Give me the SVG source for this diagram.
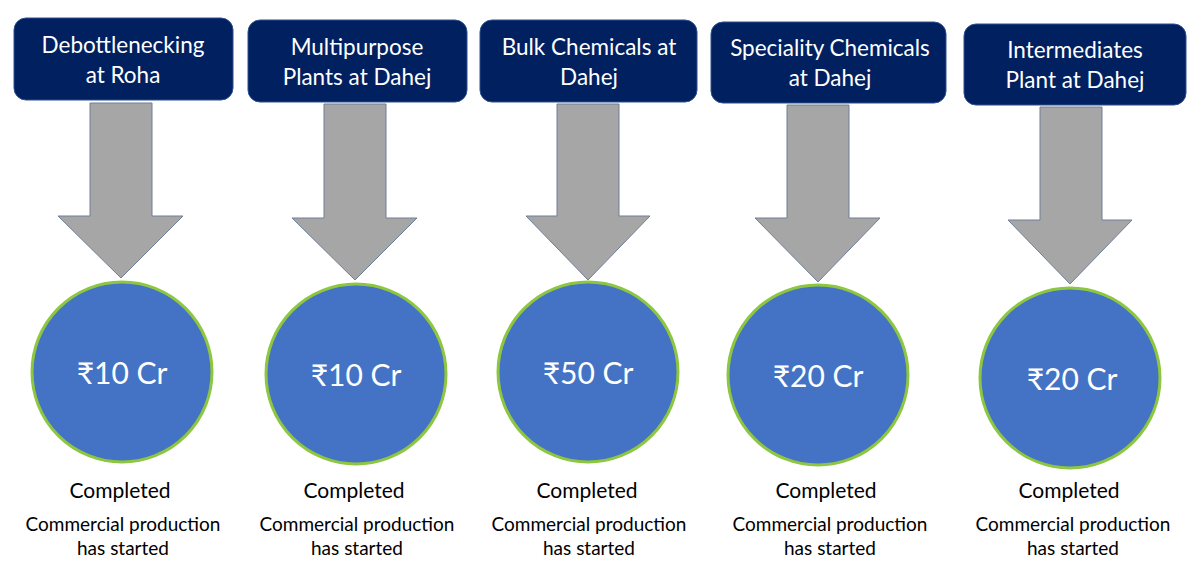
<svg xmlns="http://www.w3.org/2000/svg" width="1200" height="583" viewBox="0 0 1200 583">
<style>
.box{fill:#002060;stroke:#2f4f8f;stroke-width:1}
.bt{fill:#fff;font-family:Lato,"Open Sans",sans-serif;font-size:22.5px;text-anchor:middle}
.arr{fill:#a6a6a6;stroke:#6f7f99;stroke-width:1}
.c{fill:#4472c4;stroke:#8dc63f;stroke-width:3}
.ct{fill:#fff;font-family:Lato,"Open Sans",sans-serif;font-size:30px;text-anchor:middle}
.s1{fill:#000;font-family:Lato,"Open Sans",sans-serif;font-size:21px;text-anchor:middle}
.s2{fill:#000;font-family:Lato,"Open Sans",sans-serif;font-size:19px;text-anchor:middle}
</style>
<rect width="1200" height="583" fill="#fff"/>
<g id="connectors">
<polygon class="arr" points="90,103 152,103 152,216 183,216 121,278 58,216 90,216"/>
<polygon class="arr" points="324,104 386,104 386,218 417,218 355,280 292,218 324,218"/>
<polygon class="arr" points="557,104 619,104 619,216 650,216 588,280 526,216 557,216"/>
<polygon class="arr" points="787,105 849,105 849,218 880,218 818,282 755,218 787,218"/>
<polygon class="arr" points="1040,107 1102,107 1102,220 1132,220 1070,284 1008,220 1040,220"/>
</g>
<g id="n1">
<rect class="box" x="14" y="18" width="219" height="82" rx="12"/>
<text class="bt" x="123" y="53">Debottlenecking</text><text class="bt" x="123" y="83">at Roha</text>
<circle class="c" cx="122" cy="372" r="90"/><text class="ct" x="122" y="384">₹10 Cr</text>
<text class="s1" x="120" y="498">Completed</text><text class="s2" x="123" y="531">Commercial production</text><text class="s2" x="123" y="555">has started</text>
</g>
<g id="n2">
<rect class="box" x="248" y="20" width="219" height="82" rx="12"/>
<text class="bt" x="357" y="55">Multipurpose</text><text class="bt" x="357" y="85">Plants at Dahej</text>
<circle class="c" cx="356" cy="374" r="90"/><text class="ct" x="356" y="386">₹10 Cr</text>
<text class="s1" x="354" y="498">Completed</text><text class="s2" x="357" y="531">Commercial production</text><text class="s2" x="357" y="555">has started</text>
</g>
<g id="n3">
<rect class="box" x="480" y="20" width="217" height="82" rx="12"/>
<text class="bt" x="589" y="55">Bulk Chemicals at</text><text class="bt" x="589" y="85">Dahej</text>
<circle class="c" cx="588" cy="372" r="90"/><text class="ct" x="588" y="384">₹50 Cr</text>
<text class="s1" x="587" y="498">Completed</text><text class="s2" x="589" y="531">Commercial production</text><text class="s2" x="589" y="555">has started</text>
</g>
<g id="n4">
<rect class="box" x="711" y="22" width="235" height="81" rx="12"/>
<text class="bt" x="830" y="56">Speciality Chemicals</text><text class="bt" x="830" y="86">at Dahej</text>
<circle class="c" cx="818" cy="375" r="90"/><text class="ct" x="818" y="387">₹20 Cr</text>
<text class="s1" x="826" y="498">Completed</text><text class="s2" x="830" y="531">Commercial production</text><text class="s2" x="830" y="555">has started</text>
</g>
<g id="n5">
<rect class="box" x="964" y="24" width="222" height="81" rx="12"/>
<text class="bt" x="1075" y="58">Intermediates</text><text class="bt" x="1075" y="88">Plant at Dahej</text>
<circle class="c" cx="1070" cy="378" r="90"/><text class="ct" x="1072" y="390">₹20 Cr</text>
<text class="s1" x="1069" y="498">Completed</text><text class="s2" x="1073" y="531">Commercial production</text><text class="s2" x="1073" y="555">has started</text>
</g>
</svg>
